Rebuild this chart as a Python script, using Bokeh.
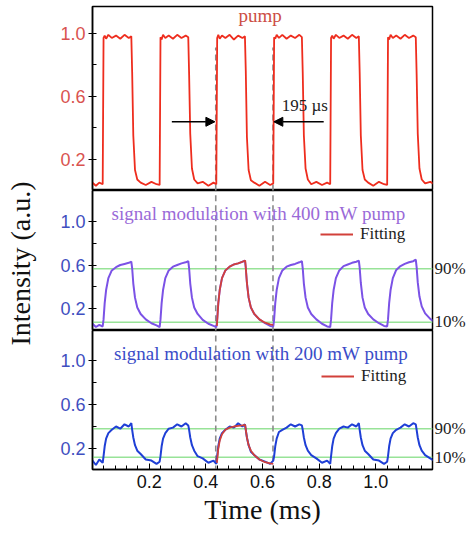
import numpy as np
from bokeh.plotting import figure
from bokeh.models import (Range1d, FixedTicker, LinearAxis, Label, Arrow, NormalHead,
                          Span, Legend, LegendItem, PrintfTickFormatter)
from bokeh.layouts import row, column
from bokeh.embed import file_html
from bokeh.resources import INLINE

# ---------------- data ----------------
t_ms = [0.000, 0.012, 0.024,
        0.036, 0.039, 0.043, 0.048, 0.056, 0.068, 0.083, 0.098, 0.113, 0.128, 0.137, 0.140, 0.144, 0.150, 0.158, 0.170, 0.188, 0.208, 0.226,
        0.237, 0.240, 0.244, 0.249, 0.257, 0.269, 0.284, 0.299, 0.314, 0.329, 0.338, 0.341, 0.345, 0.351, 0.359, 0.371, 0.389, 0.409, 0.427,
        0.437, 0.440, 0.444, 0.449, 0.457, 0.469, 0.484, 0.499, 0.514, 0.529, 0.538, 0.541, 0.545, 0.551, 0.559, 0.571, 0.589, 0.609, 0.627,
        0.638, 0.641, 0.645, 0.650, 0.658, 0.670, 0.685, 0.700, 0.715, 0.730, 0.739, 0.742, 0.746, 0.752, 0.760, 0.772, 0.790, 0.810, 0.828,
        0.839, 0.842, 0.846, 0.851, 0.859, 0.871, 0.886, 0.901, 0.916, 0.931, 0.940, 0.943, 0.947, 0.953, 0.961, 0.973, 0.991, 1.011, 1.029,
        1.040, 1.043, 1.047, 1.052, 1.060, 1.072, 1.087, 1.102, 1.117, 1.132, 1.141, 1.144, 1.148, 1.154, 1.162, 1.174, 1.192, 1.212]

pump = [0.05, 0.03, 0.05,
        0.04, 0.97, 0.985, 0.965, 0.99, 0.97, 0.985, 0.965, 0.99, 0.97, 0.98, 0.75, 0.35, 0.13, 0.07, 0.05, 0.035, 0.055, 0.04,
        0.035, 0.975, 0.96, 0.99, 0.97, 0.985, 0.965, 0.99, 0.97, 0.985, 0.975, 0.74, 0.36, 0.14, 0.07, 0.045, 0.055, 0.03, 0.05,
        0.04, 0.97, 0.99, 0.965, 0.985, 0.97, 0.99, 0.96, 0.985, 0.97, 0.98, 0.76, 0.34, 0.13, 0.065, 0.05, 0.03, 0.055, 0.035,
        0.045, 0.975, 0.965, 0.99, 0.97, 0.99, 0.965, 0.985, 0.97, 0.99, 0.975, 0.75, 0.35, 0.14, 0.07, 0.04, 0.055, 0.035, 0.05,
        0.04, 0.97, 0.985, 0.965, 0.99, 0.97, 0.985, 0.965, 0.99, 0.97, 0.98, 0.75, 0.35, 0.13, 0.07, 0.05, 0.03, 0.055, 0.04,
        0.035, 0.975, 0.96, 0.99, 0.97, 0.985, 0.965, 0.99, 0.97, 0.985, 0.975, 0.74, 0.36, 0.14, 0.07, 0.045, 0.055, 0.035]

sig400 = [0.06, 0.03, 0.05,
          0.035, 0.10, 0.25, 0.37, 0.48, 0.55, 0.58, 0.60, 0.61, 0.62, 0.63, 0.57, 0.43, 0.30, 0.21, 0.15, 0.10, 0.065, 0.045,
          0.03, 0.10, 0.25, 0.37, 0.48, 0.55, 0.585, 0.60, 0.615, 0.625, 0.635, 0.57, 0.43, 0.30, 0.21, 0.15, 0.095, 0.06, 0.04,
          0.03, 0.10, 0.25, 0.37, 0.48, 0.55, 0.585, 0.605, 0.615, 0.63, 0.64, 0.575, 0.435, 0.30, 0.21, 0.15, 0.10, 0.065, 0.04,
          0.035, 0.10, 0.25, 0.37, 0.48, 0.55, 0.585, 0.60, 0.61, 0.625, 0.635, 0.57, 0.43, 0.30, 0.21, 0.15, 0.10, 0.06, 0.035,
          0.03, 0.10, 0.25, 0.37, 0.48, 0.55, 0.59, 0.605, 0.62, 0.63, 0.64, 0.575, 0.435, 0.30, 0.21, 0.15, 0.10, 0.065, 0.04,
          0.035, 0.10, 0.25, 0.37, 0.48, 0.555, 0.59, 0.61, 0.625, 0.635, 0.65, 0.58, 0.44, 0.31, 0.22, 0.155, 0.105, 0.07]

sig200 = [0.09, 0.05, 0.10,
          0.07, 0.13, 0.22, 0.29, 0.34, 0.37, 0.40, 0.38, 0.42, 0.40, 0.43, 0.37, 0.30, 0.23, 0.18, 0.15, 0.10, 0.09, 0.06,
          0.08, 0.13, 0.22, 0.29, 0.34, 0.38, 0.39, 0.42, 0.40, 0.43, 0.41, 0.37, 0.30, 0.23, 0.18, 0.13, 0.11, 0.07, 0.09,
          0.06, 0.13, 0.22, 0.29, 0.34, 0.37, 0.40, 0.39, 0.43, 0.40, 0.42, 0.37, 0.30, 0.23, 0.17, 0.14, 0.10, 0.08, 0.06,
          0.09, 0.13, 0.22, 0.29, 0.35, 0.37, 0.39, 0.42, 0.40, 0.42, 0.41, 0.37, 0.30, 0.23, 0.18, 0.14, 0.11, 0.07, 0.09,
          0.06, 0.13, 0.22, 0.29, 0.34, 0.38, 0.40, 0.39, 0.42, 0.40, 0.43, 0.37, 0.30, 0.23, 0.18, 0.15, 0.10, 0.09, 0.06,
          0.08, 0.13, 0.22, 0.29, 0.34, 0.37, 0.39, 0.42, 0.40, 0.43, 0.42, 0.37, 0.30, 0.23, 0.18, 0.14, 0.11, 0.08]

t_fit = [0.439, 0.441, 0.444, 0.449, 0.457, 0.469, 0.484, 0.499, 0.514, 0.529, 0.539,
         0.541, 0.545, 0.551, 0.559, 0.571, 0.589, 0.609, 0.627, 0.638]
fit400 = [0.04, 0.12, 0.25, 0.37, 0.48, 0.55, 0.585, 0.605, 0.615, 0.63, 0.64,
          0.575, 0.435, 0.30, 0.21, 0.15, 0.10, 0.07, 0.055, 0.05]
fit200 = [0.07, 0.12, 0.20, 0.27, 0.33, 0.37, 0.39, 0.40, 0.405, 0.41, 0.415,
          0.37, 0.30, 0.23, 0.18, 0.14, 0.10, 0.075, 0.065, 0.06]

dash_x = [0.435, 0.637]
lvl400 = [0.074, 0.565]
lvl200 = [0.121, 0.379]
lvl_labels = ["10%", "90%"]
y_ticks = [0.2, 0.6, 1.0]
y_minor = [0.4, 0.8]
x_ticks = [0.2, 0.4, 0.6, 0.8, 1.0]
x_minor = [round(0.04 * i, 2) for i in range(1, 30)]

# ---------------- styling ----------------
SERIF = "Liberation Serif"
SANS = "Liberation Sans"
W, LB, RB = 434, 52, 42
xr = Range1d(0, 1.2)


def panel(height, yr, top, bottom, tick_color, xaxis=False):
    p = figure(width=W, height=height, x_range=xr, y_range=yr,
               toolbar_location=None, output_backend="svg",
               x_axis_location="below" if xaxis else None,
               min_border_left=LB, min_border_right=RB,
               min_border_top=top, min_border_bottom=bottom)
    p.grid.visible = False
    p.outline_line_color = "black"
    p.outline_line_width = 1.5
    ax = p.left[0]
    ax.ticker = FixedTicker(ticks=y_ticks, minor_ticks=y_minor)
    ax.formatter = PrintfTickFormatter(format="%.1f")
    ax.major_label_text_font = SANS
    ax.major_label_text_font_size = "18px"
    ax.major_label_text_color = tick_color
    ax.axis_line_color = "black"
    ax.axis_line_width = 1.5
    ax.major_tick_in = 4
    ax.major_tick_out = 4
    ax.minor_tick_in = 4
    ax.minor_tick_out = 0
    ax.major_label_standoff = 3
    return p


def right_levels(p, levels):
    ra = LinearAxis(ticker=FixedTicker(ticks=levels),
                    major_label_overrides={levels[0]: lvl_labels[0], levels[1]: lvl_labels[1]},
                    axis_line_color=None, major_tick_line_color=None, minor_tick_line_color=None,
                    major_tick_in=0, major_tick_out=0,
                    major_label_text_font=SERIF, major_label_text_font_size="17px",
                    major_label_text_color="#222222", major_label_standoff=2)
    p.add_layout(ra, "right")
    for v in levels:
        p.add_layout(Span(location=v, dimension="width", line_color="#98e398",
                          line_width=1.6, level="underlay"))


def title(p, x, y, text, color):
    p.add_layout(Label(x=x, y=y, text=text, text_align="center", text_baseline="middle",
                       text_font=SERIF, text_font_size="19px", text_color=color))


def fit_legend(p, r, loc):
    leg = Legend(items=[LegendItem(label="Fitting", renderers=[r])], location=loc,
                 padding=0, spacing=0, margin=0, glyph_width=33, glyph_height=18,
                 label_height=18, label_standoff=7, border_line_alpha=0,
                 background_fill_alpha=0, label_text_font=SERIF,
                 label_text_font_size="17px", label_text_color="#222222")
    p.add_layout(leg)


# ---- top panel: pump ----
p1 = panel(190, Range1d(0, 1.17), 6, 0, "#d9534f")
p1.segment(x0=dash_x, x1=dash_x, y0=[0, 0], y1=[0.91, 0.91], line_color="#8a8a8a",
           line_width=1.6, line_dash="6 4")
p1.line(t_ms, pump, line_color="#ee2d1e", line_width=1.8)
title(p1, 0.592, 1.11, "pump", "#cc4d44")
p1.add_layout(Arrow(x_start=0.28, x_end=0.432, y_start=0.437, y_end=0.437, line_width=1.4,
                    line_color="black",
                    end=NormalHead(size=9, fill_color="black", line_color="black")))
p1.add_layout(Arrow(x_start=0.816, x_end=0.640, y_start=0.437, y_end=0.437, line_width=1.4,
                    line_color="black",
                    end=NormalHead(size=9, fill_color="black", line_color="black")))
p1.add_layout(Label(x=0.749, y=0.54, text="195 µs", text_align="center", text_baseline="middle",
                    text_font=SERIF, text_font_size="17px", text_color="#222222"))

# ---- middle panel: 400 mW ----
p2 = panel(140, Range1d(-0.002, 1.285), 0, 0, "#3f4fc0")
right_levels(p2, lvl400)
p2.segment(x0=dash_x, x1=dash_x, y0=[-0.1, -0.1], y1=[1.4, 1.4], line_color="#8a8a8a",
           line_width=1.6, line_dash="6 4")
p2.line(t_ms, sig400, line_color="#7b52e6", line_width=2)
f2 = p2.line(t_fit, fit400, line_color="#d2403a", line_width=1.8)
title(p2, 0.586, 1.074, "signal modulation with 400 mW pump", "#9a6ad8")
fit_legend(p2, f2, (228, 86))

# ---- bottom panel: 200 mW ----
p3 = panel(203, Range1d(0.009, 1.273), 0, 64, "#3f4fc0", xaxis=True)
right_levels(p3, lvl200)
p3.segment(x0=dash_x, x1=dash_x, y0=[-0.1, -0.1], y1=[1.4, 1.4], line_color="#8a8a8a",
           line_width=1.6, line_dash="6 4")
p3.line(t_ms, sig200, line_color="#1f3fd6", line_width=2)
f3 = p3.line(t_fit, fit200, line_color="#d2403a", line_width=1.8)
title(p3, 0.595, 1.066, "signal modulation with 200 mW pump", "#3a4cc8")
fit_legend(p3, f3, (229, 83))

xa = p3.below[0]
xa.ticker = FixedTicker(ticks=x_ticks, minor_ticks=x_minor)
xa.formatter = PrintfTickFormatter(format="%.1f")
xa.major_label_text_font = SANS
xa.major_label_text_font_size = "18px"
xa.major_label_text_color = "#111111"
xa.axis_line_color = "black"
xa.axis_line_width = 1.5
xa.major_tick_in = 6
xa.major_tick_out = 0
xa.minor_tick_in = 4
xa.minor_tick_out = 0
xa.major_label_standoff = 5
xa.axis_label = "Time (ms)"
xa.axis_label_text_font = SERIF
xa.axis_label_text_font_size = "28px"
xa.axis_label_text_font_style = "normal"
xa.axis_label_text_color = "#111111"
xa.axis_label_standoff = 3

# ---- y label strip ----
lab = figure(width=40, height=533, x_range=Range1d(0, 1), y_range=Range1d(0, 1),
             toolbar_location=None, output_backend="svg", x_axis_location=None,
             y_axis_location=None, min_border=0)
lab.outline_line_color = None
lab.grid.visible = False
lab.add_layout(Label(x=0.5, y=0.5066, text="Intensity (a.u.)", angle=np.pi / 2,
                     text_align="center", text_baseline="middle", text_font=SERIF,
                     text_font_size="28px", text_color="#111111"))

layout = row(lab, column(p1, p2, p3, spacing=0), spacing=0)

open("out.html", "w").write(file_html(layout, INLINE))
